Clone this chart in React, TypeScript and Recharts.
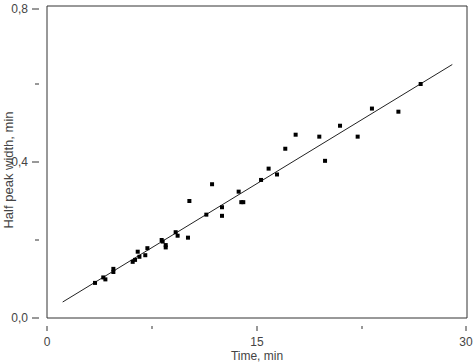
import React from 'react'
import { ComposedChart, Scatter, XAxis, YAxis, ReferenceLine } from 'recharts'

const times = [3.43, 4.02, 4.17, 4.74, 4.74, 6.12, 6.29, 6.48, 6.6, 7.02, 7.17, 8.19, 8.26, 8.48, 8.48, 9.19, 9.33, 10.07, 10.17, 11.38, 11.79, 12.5, 12.5, 13.69, 13.88, 14.02, 15.29, 15.83, 16.43, 17.02, 17.76, 19.45, 19.86, 20.93, 22.19, 23.21, 25.1, 26.69]
const widths = [0.09, 0.104, 0.099, 0.126, 0.118, 0.144, 0.149, 0.17, 0.157, 0.161, 0.179, 0.2, 0.196, 0.187, 0.181, 0.22, 0.211, 0.206, 0.3, 0.265, 0.343, 0.284, 0.262, 0.324, 0.297, 0.297, 0.354, 0.383, 0.368, 0.434, 0.47, 0.465, 0.403, 0.493, 0.465, 0.537, 0.529, 0.6]

// fitted line end points
const fitTimes = [1.12, 28.95]
const fitWidths = [0.041, 0.65]

const xTicks = [0, 7.5, 15, 22.5, 30]
const yTicks = [0, 0.2, 0.4, 0.6, 0.8]

const points = times.map((t, i) => ({ x: t, y: widths[i] }))
const fit = fitTimes.map((t, i) => ({ x: t, y: fitWidths[i] }))

const font = '"Liberation Sans", Arial, sans-serif'
const textColor = '#444'
const axisColor = '#333'

const isMajor = (v: number, step: number) => Math.abs(v / step - Math.round(v / step)) < 1e-6

function XTick(props: any) {
    const { x, y, payload } = props
    const major = isMajor(payload.value, 15)
    return (
        <g>
            <line x1={x} x2={x} y1={y} y2={y + (major ? 5 : 3)} stroke={axisColor} />
            {major && (
                <text x={x} y={y + 20} textAnchor="middle" fill={textColor} fontSize={12} fontFamily={font}>
                    {String(payload.value)}
                </text>
            )}
        </g>
    )
}

function YTick(props: any) {
    const { x, y, payload } = props
    const major = isMajor(payload.value, 0.4)
    return (
        <g>
            <line x1={x - (major ? 7 : 4)} x2={x} y1={y} y2={y} stroke={axisColor} />
            {major && (
                <text x={x - 11} y={y + 4} textAnchor="end" fill={textColor} fontSize={12} fontFamily={font}>
                    {payload.value.toFixed(1).replace('.', ',')}
                </text>
            )}
        </g>
    )
}

function YLabel() {
    return (
        <text x={13} y={170} transform="rotate(-90 13 170)" textAnchor="middle" fill={textColor} fontSize={13} fontFamily={font}>
            Half peak width, min
        </text>
    )
}

const square = (props: any) => <rect x={props.cx - 2} y={props.cy - 2} width={4} height={4} fill="#000" />

export default function App() {
    return (
        <div style={{ position: 'absolute', left: 0, top: 0, background: '#fff' }}>
            <ComposedChart width={474} height={364} margin={{ top: 6, right: 7, left: 0, bottom: 0 }}>
                <XAxis
                    type="number"
                    dataKey="x"
                    domain={[0, 30]}
                    ticks={xTicks}
                    height={46}
                    tickLine={false}
                    tick={<XTick />}
                    stroke={axisColor}
                    label={{ value: 'Time, min', position: 'insideBottom', offset: 4, fill: textColor, fontSize: 12, fontFamily: font }}
                />
                <YAxis
                    type="number"
                    dataKey="y"
                    domain={[0, 0.8]}
                    ticks={yTicks}
                    width={47}
                    tickLine={false}
                    tick={<YTick />}
                    stroke={axisColor}
                    label={<YLabel />}
                />
                <ReferenceLine y={0.8} stroke={axisColor} />
                <ReferenceLine x={30} stroke={axisColor} />
                <Scatter data={fit} line={{ stroke: '#222', strokeWidth: 1 }} shape={() => null} isAnimationActive={false} />
                <Scatter data={points} shape={square} isAnimationActive={false} />
            </ComposedChart>
        </div>
    )
}
